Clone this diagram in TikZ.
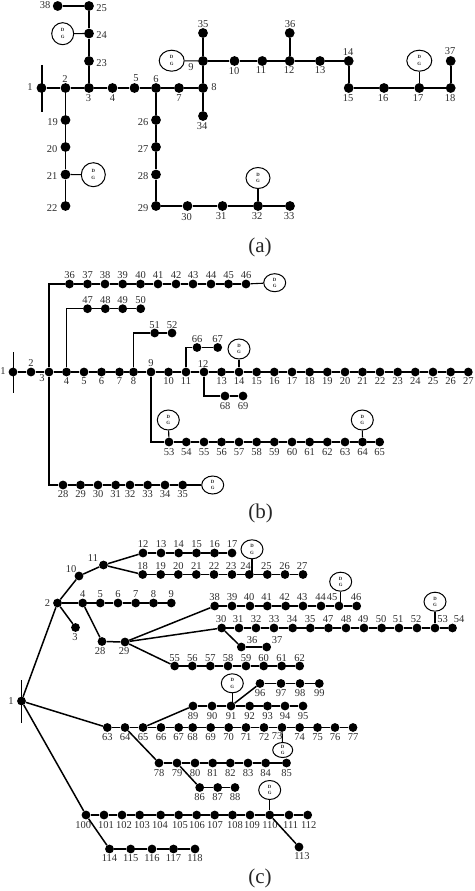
\documentclass[tikz,border=0pt]{standalone}
\usepackage{fontspec}
\setmainfont{Liberation Serif}
\usetikzlibrary{shapes.geometric}
\tikzset{
  busdot/.style={circle,fill=black,draw=none,inner sep=0pt,minimum size=8.8pt},
  bigdot/.style={busdot,minimum size=9.8pt},
  lab/.style={inner sep=0pt,text=black!82,font=\fontsize{10.5}{11}\selectfont},
  wire/.style={draw=black,line width=1.5pt},
  thick wire/.style={draw=black,line width=1.8pt},
  stub/.style={draw=black,line width=1.1pt},
  dg/.style={draw=black,ellipse,fill=white,line width=1pt,inner sep=0pt,align=center,text=black!85,font=\fontsize{4.8}{7}\selectfont\bfseries},
  captext/.style={inner sep=0pt,font=\fontsize{21}{22}\selectfont,text=black!85},
}
% #1 name, #2 x, #3 y, #4 label x, #5 label y, #6 text
\newcommand{\busA}[6]{\node[bigdot] (#1) at (#2,#3) {}; \node[lab] (#1l) at (#4,#5) {#6};}
\newcommand{\busB}[6]{\node[busdot] (#1) at (#2,#3) {}; \node[lab] (#1l) at (#4,#5) {#6};}
% row of buses: prefix, y, label y, list of number/x
\newcommand{\busrow}[4]{\foreach \n/\xx in {#4} {\node[busdot] (#1\n) at (\xx,#2) {}; \node[lab] (#1\n l) at (\xx,#3) {\n};}}
% same, with the label x given too: number/x/label x
\newcommand{\busrowL}[4]{\foreach \n/\xx/\lx in {#4} {\node[busdot] (#1\n) at (\xx,#2) {}; \node[lab] (#1\n l) at (\lx,#3) {\n};}}
% name, x, y, width, height
\newcommand{\DG}[5]{\node[dg,minimum width=#4pt,minimum height=#5pt] (#1) at (#2,#3) {D\\[-0.5pt]G};}
\begin{document}
\begin{tikzpicture}[x=1pt,y=-1pt]
\useasboundingbox (0,0) rectangle (474,891);
%% ---------- (a) ----------
\busA{a1}{41.5}{88}{30}{87}{1}
\busA{a2}{65.5}{88}{65}{79}{2}
\busA{a3}{89}{88}{88.5}{98}{3}
\busA{a4}{112.5}{88}{112.5}{98}{4}
\busA{a5}{134.5}{88}{136}{78.5}{5}
\busA{a6}{156}{88}{156}{79}{6}
\busA{a7}{179}{88}{179}{98}{7}
\busA{a8}{203}{88}{214}{87}{8}
\busA{a9}{203}{61}{191}{67}{9}
\busA{a10}{234.5}{61}{234}{71}{10}
\busA{a11}{262.3}{61}{261}{70.5}{11}
\busA{a12}{289.7}{61}{289}{70.5}{12}
\busA{a13}{320}{61}{320}{70.5}{13}
\busA{a14}{348.7}{61}{348}{52}{14}
\busA{a15}{348.7}{88}{348}{98}{15}
\busA{a16}{384}{88}{383}{98}{16}
\busA{a17}{419.3}{88}{418}{98}{17}
\busA{a18}{450.7}{88}{450}{98}{18}
\busA{a19}{65.5}{120}{52.5}{122}{19}
\busA{a20}{65.5}{147}{52}{149}{20}
\busA{a21}{65.5}{174.5}{52}{176}{21}
\busA{a22}{65.5}{206}{52}{208}{22}
\busA{a23}{89}{61}{101.5}{63}{23}
\busA{a24}{89}{33.5}{101.5}{35}{24}
\busA{a25}{89}{6}{101.5}{8}{25}
\busA{a26}{156}{120}{143}{122}{26}
\busA{a27}{156}{147}{143}{149}{27}
\busA{a28}{156}{174.5}{143}{176}{28}
\busA{a29}{156}{206}{143}{208}{29}
\busA{a30}{187.5}{206}{186.5}{217}{30}
\busA{a31}{222.5}{206}{221}{216}{31}
\busA{a32}{258}{206}{257}{216}{32}
\busA{a33}{290}{206}{289}{216}{33}
\busA{a34}{203}{116}{202}{126}{34}
\busA{a35}{203}{33}{203}{24}{35}
\busA{a36}{289.7}{33}{290}{24}{36}
\busA{a37}{450.7}{61}{450}{51}{37}
\busA{a38}{57.7}{6}{45}{5}{38}
\coordinate (abt) at (42,65); \coordinate (abb) at (42,112);
\draw[thick wire] (abt) -- (abb);
\foreach \u/\v in {1/2,2/3,3/4,4/5,5/6,6/7,7/8,8/9,9/10,10/11,11/12,12/13,13/14,14/15,15/16,16/17,17/18,18/37,
  2/19,19/20,20/21,21/22,3/23,23/24,24/25,25/38,6/26,26/27,27/28,28/29,29/30,30/31,31/32,32/33,8/34,9/35,12/36}
  \draw[thick wire] (a\u) -- (a\v);
\DG{adg24}{62.7}{33.7}{22}{22}
\DG{adg9}{171.7}{60.7}{25}{21}
\DG{adg21}{93.3}{174.7}{24}{24}
\DG{adg17}{419.3}{60.7}{25}{21}
\DG{adg32}{258}{178}{24}{21}
\draw[stub] (adg24) -- (a24);
\draw[stub] (adg9) -- (a9);
\draw[stub] (adg21) -- (a21);
\draw[stub] (adg17) -- (a17);
\draw[stub] (adg32) -- (a32);
\node[captext] (capa) at (260,247) {(a)};
%% ---------- (b) ----------
\busB{b1}{13}{372}{3}{371}{1}
\busB{b2}{31}{372}{31}{363}{2}
\busB{b3}{49}{372}{42}{378}{3}
\busrow{b}{372}{381}{4/66.5,5/84,6/101.5,7/119.5,8/133.5,10/168.5,11/186,13/221.5,14/239,15/256.7,16/274.3,17/292,18/309.7,19/327.3,20/345,21/362.5,22/380,23/397.7,24/415.3,25/433,26/450.7,27/468.3}
\busB{b9}{151}{372}{151}{363}{9}
\busB{b12}{204}{372}{203}{364}{12}
\busrow{b}{284}{275}{36/69.5,37/87.5,38/105,39/122.7,40/140.5,41/158,42/176,43/193,44/211,45/228.5,46/246}
\busrow{b}{308.7}{300}{47/87.5,48/105.3,49/122.7,50/140.7}
\busrow{b}{333}{325}{51/154.7,52/172}
\busrow{b}{347.5}{339}{66/197,67/217.7}
\busrow{b}{396}{406}{68/225,69/243}
\busrow{b}{442}{452}{53/169,54/186.3,55/204,56/221.5,57/239,58/256.7,59/274.3,60/292,61/309.7,62/327.3,63/345,64/362.5,65/379.7}
\busrow{b}{485}{494}{28/63,29/80.5,30/98,31/115.7,32/130,33/147.7,34/165,35/182.7}
\coordinate (bbt) at (13.5,352); \coordinate (bbb) at (13.5,393);
\draw[wire] (bbt) -- (bbb);
\foreach \i [evaluate=\i as \p using int(\i-1)] in {2,...,27} \draw[thick wire] (b\p) -- (b\i);
\foreach \i [evaluate=\i as \p using int(\i-1)] in {37,...,46,48,49,50,52,67,69,54,55,...,65,29,30,...,35} \draw[wire] (b\p) -- (b\i);
\draw[wire] (b3) |- (b36);
\draw[wire] (b4) |- (b47);
\draw[wire] (b8) |- (b51);
\draw[wire] (b11) |- (b66);
\draw[wire] (b12) |- (b68);
\draw[wire] (b9) |- (b53);
\draw[wire] (b3) |- (b28);
\DG{bdg46}{274.7}{282.7}{22}{18}
\DG{bdg14}{239}{349}{22}{20}
\DG{bdg53}{168.3}{420}{22}{20}
\DG{bdg64}{362.3}{420}{22}{20}
\DG{bdg35}{212.7}{485}{22}{18}
\draw[stub] (bdg46) -- (b46);
\draw[stub] (bdg14) -- (b14);
\draw[stub] (bdg53) -- (b53);
\draw[stub] (bdg64) -- (b64);
\draw[stub] (bdg35) -- (b35);
\node[captext] (capb) at (260.5,513) {(b)};
%% ---------- (c) ----------
\busB{c1}{21.5}{701}{11}{701}{1}
\busB{c2}{57.5}{603}{47.5}{603}{2}
\busB{c3}{75.5}{627.5}{75}{637}{3}
\busB{c10}{79}{576}{71}{569}{10}
\busB{c11}{103.5}{565}{93}{558}{11}
\busB{c28}{102}{641.5}{100}{651}{28}
\busB{c29}{125}{642}{124}{651.5}{29}
\busB{c36}{241.3}{647}{252}{640}{36}
\busB{c37}{266.7}{647}{277}{640}{37}
\busB{c73}{282}{727.5}{277}{736}{73}
\busB{c113}{299}{847}{302}{856}{113}
\busrow{c}{603}{594}{4/82.7,5/100.3,6/118,7/135.7,8/153.5,9/171.3}
\busrow{c}{553}{544}{12/143,13/161,14/178.7,15/196.5,16/214.5,17/232}
\busrowL{c}{574.5}{566}{18/142.7/142.7,19/160.7/160.7,20/178.3/178.3,21/196.3/196.3,22/214/214,23/232/231,24/249.3/245.7,25/267.3/266.3,26/285/284.5,27/303/302}
\busrowL{c}{606}{597}{38/214.7/214.7,39/232/232,40/250/249,41/267.3/266.5,42/285.7/284.5,43/303/302,44/321/320.7,45/339/332,46/356.7/356}
\busrowL{c}{628}{619.5}{30/221.7/221,31/239/238,32/256/256,33/274/274,34/292.7/292,35/310.3/310,47/328.5/328,48/346/346,49/364/363,50/381.7/381,51/399/398,52/417/416,53/435/442.7,54/452.5/459}
\busrow{c}{666}{658}{55/174.7,56/192.3,57/210.3,58/228,59/246,60/263.7,61/281.7,62/299.7}
\busrow{c}{683.5}{693}{96/260,97/281,98/300,99/319.3}
\busrow{c}{706}{716}{89/193,90/212,91/231,92/249.7,93/267.5,94/285,95/303}
\busrow{c}{727.5}{737}{63/107.3,64/125,65/143,66/161,67/178.7,68/192.7,69/210.7,70/228.7,71/246,72/264,74/299.7,75/317.5,76/335,77/353}
\busrow{c}{763}{773}{78/159,79/177,80/195,81/212.7,82/230.3,83/248,84/265.7,85/286.5}
\busrow{c}{787.5}{797}{86/199.7,87/217.7,88/235}
\busrowL{c}{815}{825}{100/86/83.3,101/104/106,102/122/124,103/139.7/142,104/160.7/160,105/178.7/180,106/196.7/197,107/214.7/215,108/232.5/235,109/250/252,110/269.7/270,111/289/290.7,112/307.7/308.7}
\busrow{c}{849}{858}{114/109.5,115/130.7,116/152,117/173.5,118/195}
\coordinate (cbt) at (21.5,680); \coordinate (cbb) at (21.5,723);
\draw[wire] (cbt) -- (cbb);
\foreach \u/\v in {1/2,2/3,2/10,10/11,11/12,11/18,2/4,4/28,28/29,29/38,29/30,29/55,30/36,36/37,
  1/63,1/100,100/114,64/78,79/86,65/89,91/96,110/113}
  \draw[wire] (c\u) -- (c\v);
\foreach \i [evaluate=\i as \p using int(\i-1)] in {5,6,7,8,9,13,14,15,16,17,19,20,...,27,39,40,...,46,31,32,33,34,35,56,57,...,62,97,98,99,90,91,...,95,64,65,...,77,79,80,...,85,87,88,101,102,...,112,115,116,117,118,48,49,...,54}
  \draw[wire] (c\p) -- (c\i);
\draw[wire] (c35) -- (c47);
\DG{cdg24}{252}{549.3}{22}{19}
\DG{cdg45}{340.7}{581.7}{22}{19}
\DG{cdg53}{435}{601.7}{22}{19}
\DG{cdg91}{232.3}{683.3}{22}{19}
\DG{cdg73}{282.7}{750}{20}{15}
\DG{cdg110}{269.7}{790}{22}{19}
\draw[stub] (cdg24.south) -- (cdg24.south |- c24);
\draw[stub] (cdg45.south) -- (cdg45.south |- c45);
\draw[stub] (cdg53) -- (c53);
\draw[stub] (cdg91.south) -- (cdg91.south |- c91);
\draw[stub] (cdg73) -- (c73);
\draw[stub] (cdg110) -- (c110);
\node[captext] (capc) at (260,878) {(c)};
\end{tikzpicture}
\end{document}
